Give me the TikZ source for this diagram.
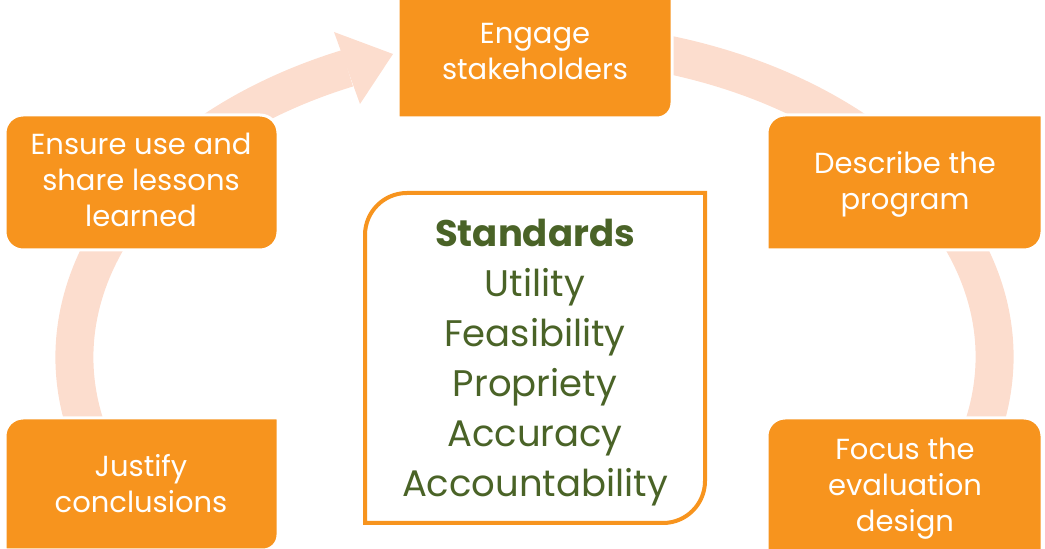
\documentclass[tikz,border=0pt]{standalone}
\usepackage{fontspec}
\setmainfont{Poppins}
\usepackage{tikz}

\definecolor{cdcorange}{RGB}{247,148,30}
\definecolor{ringpeach}{RGB}{252,221,206}
\definecolor{stdgreen}{RGB}{74,99,39}

\begin{document}
\begin{tikzpicture}[x=1pt, y=1pt,
		stepbox/.style={fill=cdcorange, draw=white, line width=3pt},
		stdbox/.style={fill=white, draw=cdcorange, line width=4pt},
		steptext/.style={text=white, align=center, font=\fontsize{29}{36}\selectfont},
		stdtext/.style={text=stdgreen, align=center, font=\fontsize{37}{50}\selectfont}]
		\useasboundingbox (0,0) rectangle (1045,549);
		\clip (0,0) rectangle (1045,549);
		% cycle arrow behind the steps
		\draw[ringpeach, line width=38pt] (534.5,192) ++(78:460pt and 316pt) arc[start angle=78, end angle=-246, x radius=460pt, y radius=316pt];
		\fill[ringpeach] (334,517) -- (393,495) -- (360,445) -- cycle;
		% steps
		\path[stepbox] (535,431) [rounded corners=15pt] -- (672,431) [sharp corners] -- (672,570) -- (398,570) -- (398,431) -- cycle;
		\path[stepbox] (904,299) [rounded corners=18pt] -- (1042,299) [sharp corners] -- (1042,434) [rounded corners=18pt] -- (767,434) [sharp corners] -- (767,299) -- cycle;
		\path[stepbox] (904,-20) -- (1042,-20) [rounded corners=18pt] -- (1042,131) -- (767,131) [sharp corners] -- (767,-20) -- cycle;
		\path[stepbox] (141,-1) [rounded corners=15pt] -- (278,-1) [sharp corners] -- (278,131) [rounded corners=18pt] -- (5,131) [sharp corners] -- (5,-1) -- cycle;
		\path[stepbox, rounded corners=18pt] (5,299) rectangle (278,434);
		\node[steptext] (engage) at (535,497) {Engage\\stakeholders};
		\node[steptext] (describe) at (905,365) {Describe the\\program};
		\node[steptext] (focus) at (905,60) {Focus the\\evaluation\\design};
		\node[steptext] (justify) at (141,65) {Justify\\conclusions};
		\node[steptext] (ensure) at (141,369) {Ensure use and\\share lessons\\learned};
		% standards in the middle
		\path[stdbox] (535,26) [rounded corners=42pt] -- (705,26) [sharp corners] -- (705,356) [rounded corners=42pt] -- (365,356) [sharp corners] -- (365,26) -- cycle;
		\node[stdtext] (standards) at (535,186) {\textbf{Standards}\\Utility\\Feasibility\\Propriety\\Accuracy\\Accountability};
	\end{tikzpicture}
\end{document}
